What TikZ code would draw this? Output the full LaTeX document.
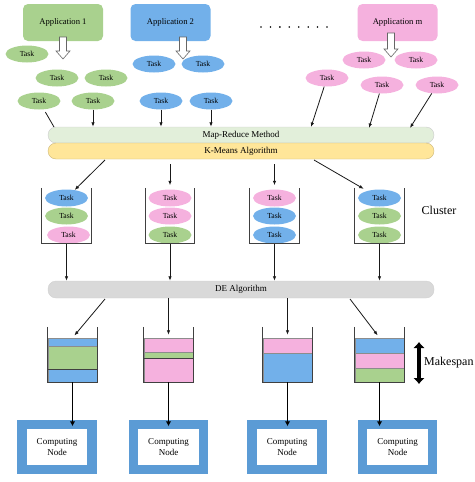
\documentclass[tikz,border=0pt]{standalone}
\usepackage{fontspec}
\setmainfont{Liberation Serif}
\usepackage{tikz}
\usetikzlibrary{arrows.meta,shapes.geometric}

\definecolor{taskgreen}{HTML}{A9D18E}
\definecolor{taskblue}{HTML}{72B0EA}
\definecolor{taskpink}{HTML}{F5B1DE}
\definecolor{mrgreen}{HTML}{E2EFDA}
\definecolor{kmyellow}{HTML}{FFE699}
\definecolor{degray}{HTML}{D9D9D9}
\definecolor{compblue}{HTML}{5B9BD5}

\tikzset{
        app/.style={rounded corners=5pt, minimum width=80pt, minimum height=37pt, inner sep=0pt, font=\fontsize{8.6}{10}\selectfont},
        task/.style={ellipse, minimum width=43pt, minimum height=17pt, inner sep=0pt, font=\fontsize{7.7}{9}\selectfont},
        bar/.style={rounded corners=8pt, minimum width=386pt, minimum height=16pt, inner sep=0pt, font=\fontsize{9}{10}\selectfont},
        bucket/.style={minimum width=49pt, minimum height=55pt, inner sep=0pt},
        band/.style={minimum width=49pt, inner sep=0pt, draw=black!45, line width=0.4pt},
        wall/.style={black!75, line width=0.8pt},
        hollow/.style={draw=black!60, fill=white, line width=0.6pt},
        tarrow/.style={-{Latex[length=4.5pt,width=3.5pt]}, line width=0.8pt, black!90},
        bigarrow/.style={-{Latex[length=5pt,width=5.5pt]}, line width=1.5pt},
        compnode/.style={draw=compblue, line width=9.5pt, fill=white, minimum width=70pt, minimum height=45pt, align=center, font=\fontsize{9}{11}\selectfont}
}

\newcommand{\blockarrow}[3]{\draw[hollow] (#1-3.5,#2) -- (#1+3.5,#2) -- (#1+3.5,#3-8) -- (#1+7,#3-8) -- (#1,#3) -- (#1-7,#3-8) -- (#1-3.5,#3-8) -- cycle;}

\begin{document}
\begin{tikzpicture}[x=1pt,y=-1pt]
        \useasboundingbox (0,0) rectangle (474,482);

        \node[app, fill=taskgreen] (app1) at (63,22.5) {Application 1};
        \node[app, fill=taskblue] (app2) at (170.5,22.5) {Application 2};
        \node[app, fill=taskpink] (appm) at (397.5,22.5) {Application m};
        \foreach \i in {0,...,7}
                \fill (261+\i*9.43,27) circle (0.9pt);

        \blockarrow{63}{37}{59}
        \blockarrow{183}{37}{59}
        \blockarrow{391}{33}{57}

        \node[task, fill=taskgreen] (g1) at (27,54) {Task};
        \node[task, fill=taskgreen] (g2) at (57,78) {Task};
        \node[task, fill=taskgreen] (g3) at (106,78) {Task};
        \node[task, fill=taskgreen] (g4) at (39,101) {Task};
        \node[task, fill=taskgreen] (g5) at (93,101) {Task};

        \node[task, fill=taskblue] (a1) at (154,64) {Task};
        \node[task, fill=taskblue] (a2) at (203,64) {Task};
        \node[task, fill=taskblue] (a3) at (161,101) {Task};
        \node[task, fill=taskblue] (a4) at (211,101) {Task};

        \node[task, fill=taskpink] (p1) at (364,60) {Task};
        \node[task, fill=taskpink] (p2) at (416,60) {Task};
        \node[task, fill=taskpink] (p3) at (327,78) {Task};
        \node[task, fill=taskpink] (p4) at (382,85) {Task};
        \node[task, fill=taskpink] (p5) at (437,85) {Task};

        \node[bar, fill=mrgreen, draw=black!20] (mr) at (241,135) {Map-Reduce Method};
        \node[bar, fill=kmyellow, draw=kmyellow!80!black] (km) at (241,151) {K-Means Algorithm};

        \coordinate (m0) at (54,127);
        \coordinate (m1) at (311,127);
        \coordinate (m2) at (369,128);
        \coordinate (m3) at (410,128);
        \draw[line width=0.8pt, black!90, shorten <=3pt] (g4) -- (m0);
        \draw[tarrow] (g5) -- (g5 |- mr.north);
        \draw[tarrow] (a3) -- (a3 |- mr.north);
        \draw[tarrow] (a4) -- (a4 |- mr.north);
        \draw[tarrow] (p3) -- (m1);
        \draw[tarrow] (p4) -- (m2);
        \draw[tarrow] (p5) -- (m3);

        \node[bucket] (q1) at (66.5,215.5) {};
        \node[bucket] (q2) at (170,215.5) {};
        \node[bucket] (q3) at (274.5,215.5) {};
        \node[bucket] (q4) at (379.5,215.5) {};

        \node[task, fill=taskblue] (q1t1) at (66.5,198) {Task};
        \node[task, fill=taskgreen] (q1t2) at (66.5,216) {Task};
        \node[task, fill=taskpink] (q1t3) at (68.5,235) {Task};
        \node[task, fill=taskpink] (q2t1) at (170,198) {Task};
        \node[task, fill=taskpink] (q2t2) at (170,216) {Task};
        \node[task, fill=taskgreen] (q2t3) at (170,235) {Task};
        \node[task, fill=taskpink] (q3t1) at (274.5,198) {Task};
        \node[task, fill=taskblue] (q3t2) at (274.5,216) {Task};
        \node[task, fill=taskblue] (q3t3) at (274.5,235) {Task};
        \node[task, fill=taskblue] (q4t1) at (379.5,198) {Task};
        \node[task, fill=taskgreen] (q4t2) at (379.5,216) {Task};
        \node[task, fill=taskgreen] (q4t3) at (379.5,235) {Task};

        \node[font=\fontsize{12}{14}\selectfont] (cluster) at (439,210) {Cluster};

        \coordinate (k1) at (105,160);
        \coordinate (k4) at (314,160);
        \draw[tarrow] (k1) -- (q1t1);
        \draw[tarrow, shorten <=5pt, shorten >=4pt] (q2t1 |- km.south) -- (q2t1);
        \draw[tarrow, shorten <=5pt, shorten >=4pt] (q3t1 |- km.south) -- (q3t1);
        \draw[tarrow, shorten >=4pt] (k4) -- (q4t1);

        \node[bar, fill=degray, draw=black!18, minimum height=17pt] (de) at (241,289.5) {DE Algorithm};

        \draw[tarrow] (q1.south) -- (q1.south |- de.north);
        \draw[tarrow] (q2.south) -- (q2.south |- de.north);
        \draw[tarrow] (q3.south) -- (q3.south |- de.north);
        \draw[tarrow] (q4.south) -- (q4.south |- de.north);

        \node[bucket] (bin1) at (72.5,354.5) {};
        \node[bucket] (bin2) at (168.5,354.5) {};
        \node[bucket] (bin3) at (287.5,354.5) {};
        \node[bucket] (bin4) at (379.5,354.5) {};

        \node[band, fill=taskblue, minimum height=8pt] (b1a) at (72.5,342) {};
        \node[band, fill=taskgreen, minimum height=23pt] (b1b) at (72.5,357.5) {};
        \node[band, fill=taskblue, minimum height=13pt] (b1c) at (72.5,375.5) {};
        \node[band, fill=taskpink, minimum height=14pt] (b2a) at (168.5,345) {};
        \node[band, fill=taskgreen, minimum height=6pt] (b2b) at (168.5,355) {};
        \node[band, fill=taskpink, minimum height=24pt] (b2c) at (168.5,370) {};
        \node[band, fill=taskpink, minimum height=15pt] (b3a) at (287.5,345.5) {};
        \node[band, fill=taskblue, minimum height=29pt] (b3b) at (287.5,367.5) {};
        \node[band, fill=taskblue, minimum height=15pt] (b4a) at (379.5,345.5) {};
        \node[band, fill=taskpink, minimum height=15pt] (b4b) at (379.5,360.5) {};
        \node[band, fill=taskgreen, minimum height=14pt] (b4c) at (379.5,375) {};
        \draw[wall, line width=1.2pt] (b1b.south west) -- (b1b.south east);
        \draw[wall, line width=1.4pt] (b2b.south west) -- (b2b.south east);

        \foreach \b in {q1,q2,q3,q4,bin1,bin2,bin3,bin4}
                \draw[wall] (\b.north west) -- (\b.south west) -- (\b.south east) -- (\b.north east);

        \coordinate (d1) at (105,299);
        \coordinate (d4) at (350,299);
        \draw[tarrow, shorten >=3pt] (d1) -- (b1a.north);
        \draw[tarrow, shorten >=3pt] (b2a.north |- de.south) -- (b2a.north);
        \draw[tarrow, shorten >=3pt] (b3a.north |- de.south) -- (b3a.north);
        \draw[tarrow, shorten >=3pt] (d4) -- (b4a.north);

        \coordinate (ms1) at (419,342);
        \coordinate (ms2) at (419,384);
        \draw[{Latex[length=6pt,width=12pt]}-{Latex[length=6pt,width=12pt]}, line width=3.2pt] (ms1) -- (ms2);
        \node[anchor=west, font=\fontsize{12}{14}\selectfont, inner sep=0pt] (mspan) at (424,363) {Makespan};

        \node[compnode] (c1) at (57,447) {Computing\\Node};
        \node[compnode] (c2) at (168.5,447) {Computing\\Node};
        \node[compnode] (c3) at (287,447) {Computing\\Node};
        \node[compnode] (c4) at (397.5,447) {Computing\\Node};

        \draw[bigarrow] (bin1.south) -- ([yshift=-6.5pt]c1.north -| bin1.south);
        \draw[bigarrow] (bin2.south) -- ([yshift=-6.5pt]c2.north -| bin2.south);
        \draw[bigarrow] (bin3.south) -- ([yshift=-6.5pt]c3.north -| bin3.south);
        \draw[bigarrow] (bin4.south) -- ([yshift=-6.5pt]c4.north -| bin4.south);

\end{tikzpicture}
\end{document}
